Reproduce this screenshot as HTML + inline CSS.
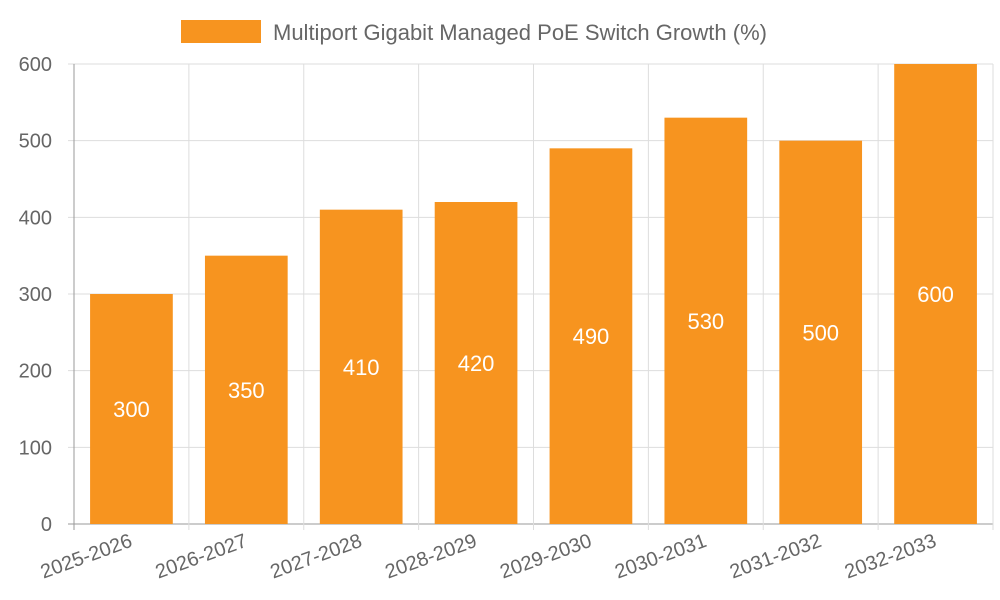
<!DOCTYPE html>
<html><head><meta charset="utf-8"><style>
body{margin:0;background:#fff;}
svg{display:block;font-family:"Liberation Sans",sans-serif;}
</style></head><body>
<svg id="chart" width="1000" height="600">
<g>
<rect x="181" y="20" width="80" height="23" fill="#F7941F"></rect>
<text x="273" y="40" font-size="22" fill="#666">Multiport Gigabit Managed PoE Switch Growth (%)</text>
</g>
<g id="grid"></g><g id="bars"></g><g id="axes"></g>
</svg>
<script>
const categories=["2025-2026","2026-2027","2027-2028","2028-2029","2029-2030","2030-2031","2031-2032","2032-2033"];
const values=[300,350,410,420,490,530,500,600];
const yTicks=[0,100,200,300,400,500,600];
const NS="http://www.w3.org/2000/svg";
const L=74,R=993,T=64,B=524,yMax=600;
const bw=(R-L)/categories.length;
const y=v=>B-(v/yMax)*(B-T);
const x=i=>L+i*bw;
function mk(tag,attrs,parent,txt){const e=document.createElementNS(NS,tag);for(const k in attrs)e.setAttribute(k,attrs[k]);if(txt!==undefined)e.textContent=txt;document.getElementById(parent).appendChild(e);return e;}
yTicks.forEach(t=>{
 const g=mk("line",{x1:L-6,x2:R,y1:y(t),y2:y(t),stroke:t===0?"#999":"#ddd","stroke-width":1},"grid");
 
 
 const l=mk("text",{x:52,y:y(t)+7,"text-anchor":"end","font-size":20,fill:"#666"},"axes",t);
 
 
});
for(let i=0;i<=categories.length;i++){
 const g=mk("line",{x1:x(i),x2:x(i),y1:T,y2:B+6,stroke:i===0?"#999":"#ddd","stroke-width":1},"grid");
 
 
}
categories.forEach((c,i)=>{
 const cx=x(i)+bw/2,w=bw*0.72;
 const r=mk("rect",{x:cx-w/2,y:y(values[i]),width:w,height:B-y(values[i]),fill:"#F7941F"},"bars");
 
 
 const v=mk("text",{x:cx,y:(y(values[i])+B)/2+8,"text-anchor":"middle","font-size":22,fill:"#fff"},"bars",values[i]);
 
 
 const l=mk("text",{x:cx+2,y:B+22,"text-anchor":"end","font-size":20,fill:"#666",transform:`rotate(-20 ${cx+2} ${B+22})`},"axes",c);
 
 
});
</script>
</body></html>
